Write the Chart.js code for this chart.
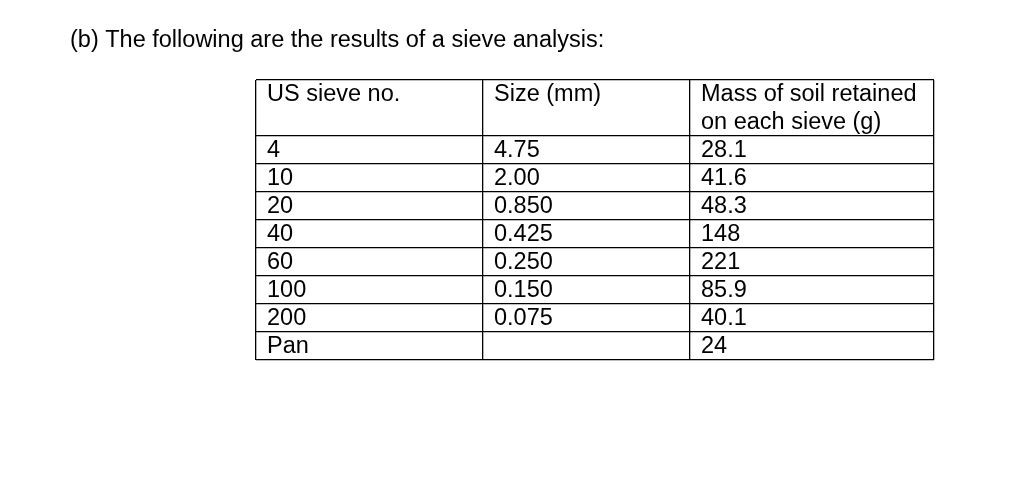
<!DOCTYPE html>
<html><head><meta charset="utf-8">
<script src="https://cdn.jsdelivr.net/npm/chart.js@4"></script>
<style>html,body{margin:0;padding:0;background:#fff}#w{width:1024px;height:482px}</style>
</head><body><div id="w"><canvas id="c"></canvas></div>
<script>
const title = "(b) The following are the results of a sieve analysis:";
const headers = [["US sieve no."], ["Size (mm)"], ["Mass of soil retained", "on each sieve (g)"]];
const sieveNo = ["4","10","20","40","60","100","200","Pan"];
const sizeMm = ["4.75","2.00","0.850","0.425","0.250","0.150","0.075",""];
const massRetained = ["28.1","41.6","48.3","148","221","85.9","40.1","24"];
const colEdges = [0, 227, 434, 678];
const rowEdges = [0, 2, 3, 4, 5, 6, 7, 8, 9, 10];

const columns = [sieveNo, sizeMm, massRetained];
const FONT = '23.5px "Liberation Sans", Arial, sans-serif';

const tablePlugin = {
  id: 'tableText',
  afterDraw(chart) {
    const ctx = chart.ctx, xs = chart.scales.x, ys = chart.scales.y;
    ctx.save();
    ctx.fillStyle = '#000';
    ctx.font = FONT;
    ctx.textBaseline = 'top';
    ctx.fillText(title, 70, 29);
    for (let c = 0; c < 3; c++) {
      const x = xs.getPixelForValue(colEdges[c]) + 11;
      headers[c].forEach((t, i) => ctx.fillText(t, x, ys.getPixelForValue(0) + 3 + i * 28));
      columns[c].forEach((t, r) => ctx.fillText(t, x, ys.getPixelForValue(rowEdges[r + 1]) + 3));
    }
    ctx.restore();
  }
};

new Chart(document.getElementById('c'), {
  type: 'scatter',
  data: { datasets: [{ data: [] }] },
  options: {
    responsive: true, maintainAspectRatio: false, animation: false,
    layout: { padding: { left: 256, right: 90, top: 80, bottom: 122 } },
    plugins: { legend: { display: false }, tooltip: { enabled: false } },
    scales: {
      x: {
        type: 'linear', min: colEdges[0], max: colEdges[colEdges.length - 1],
        afterBuildTicks: s => { s.ticks = colEdges.map(v => ({ value: v })); },
        ticks: { display: false },
        grid: { color: '#000', lineWidth: 1.3, drawTicks: false },
        border: { display: false }
      },
      y: {
        type: 'linear', reverse: true, min: rowEdges[0], max: rowEdges[rowEdges.length - 1],
        afterBuildTicks: s => { s.ticks = rowEdges.map(v => ({ value: v })); },
        ticks: { display: false },
        grid: { color: '#000', lineWidth: 1.3, drawTicks: false },
        border: { display: false }
      }
    }
  },
  plugins: [tablePlugin]
});
</script></body></html>
